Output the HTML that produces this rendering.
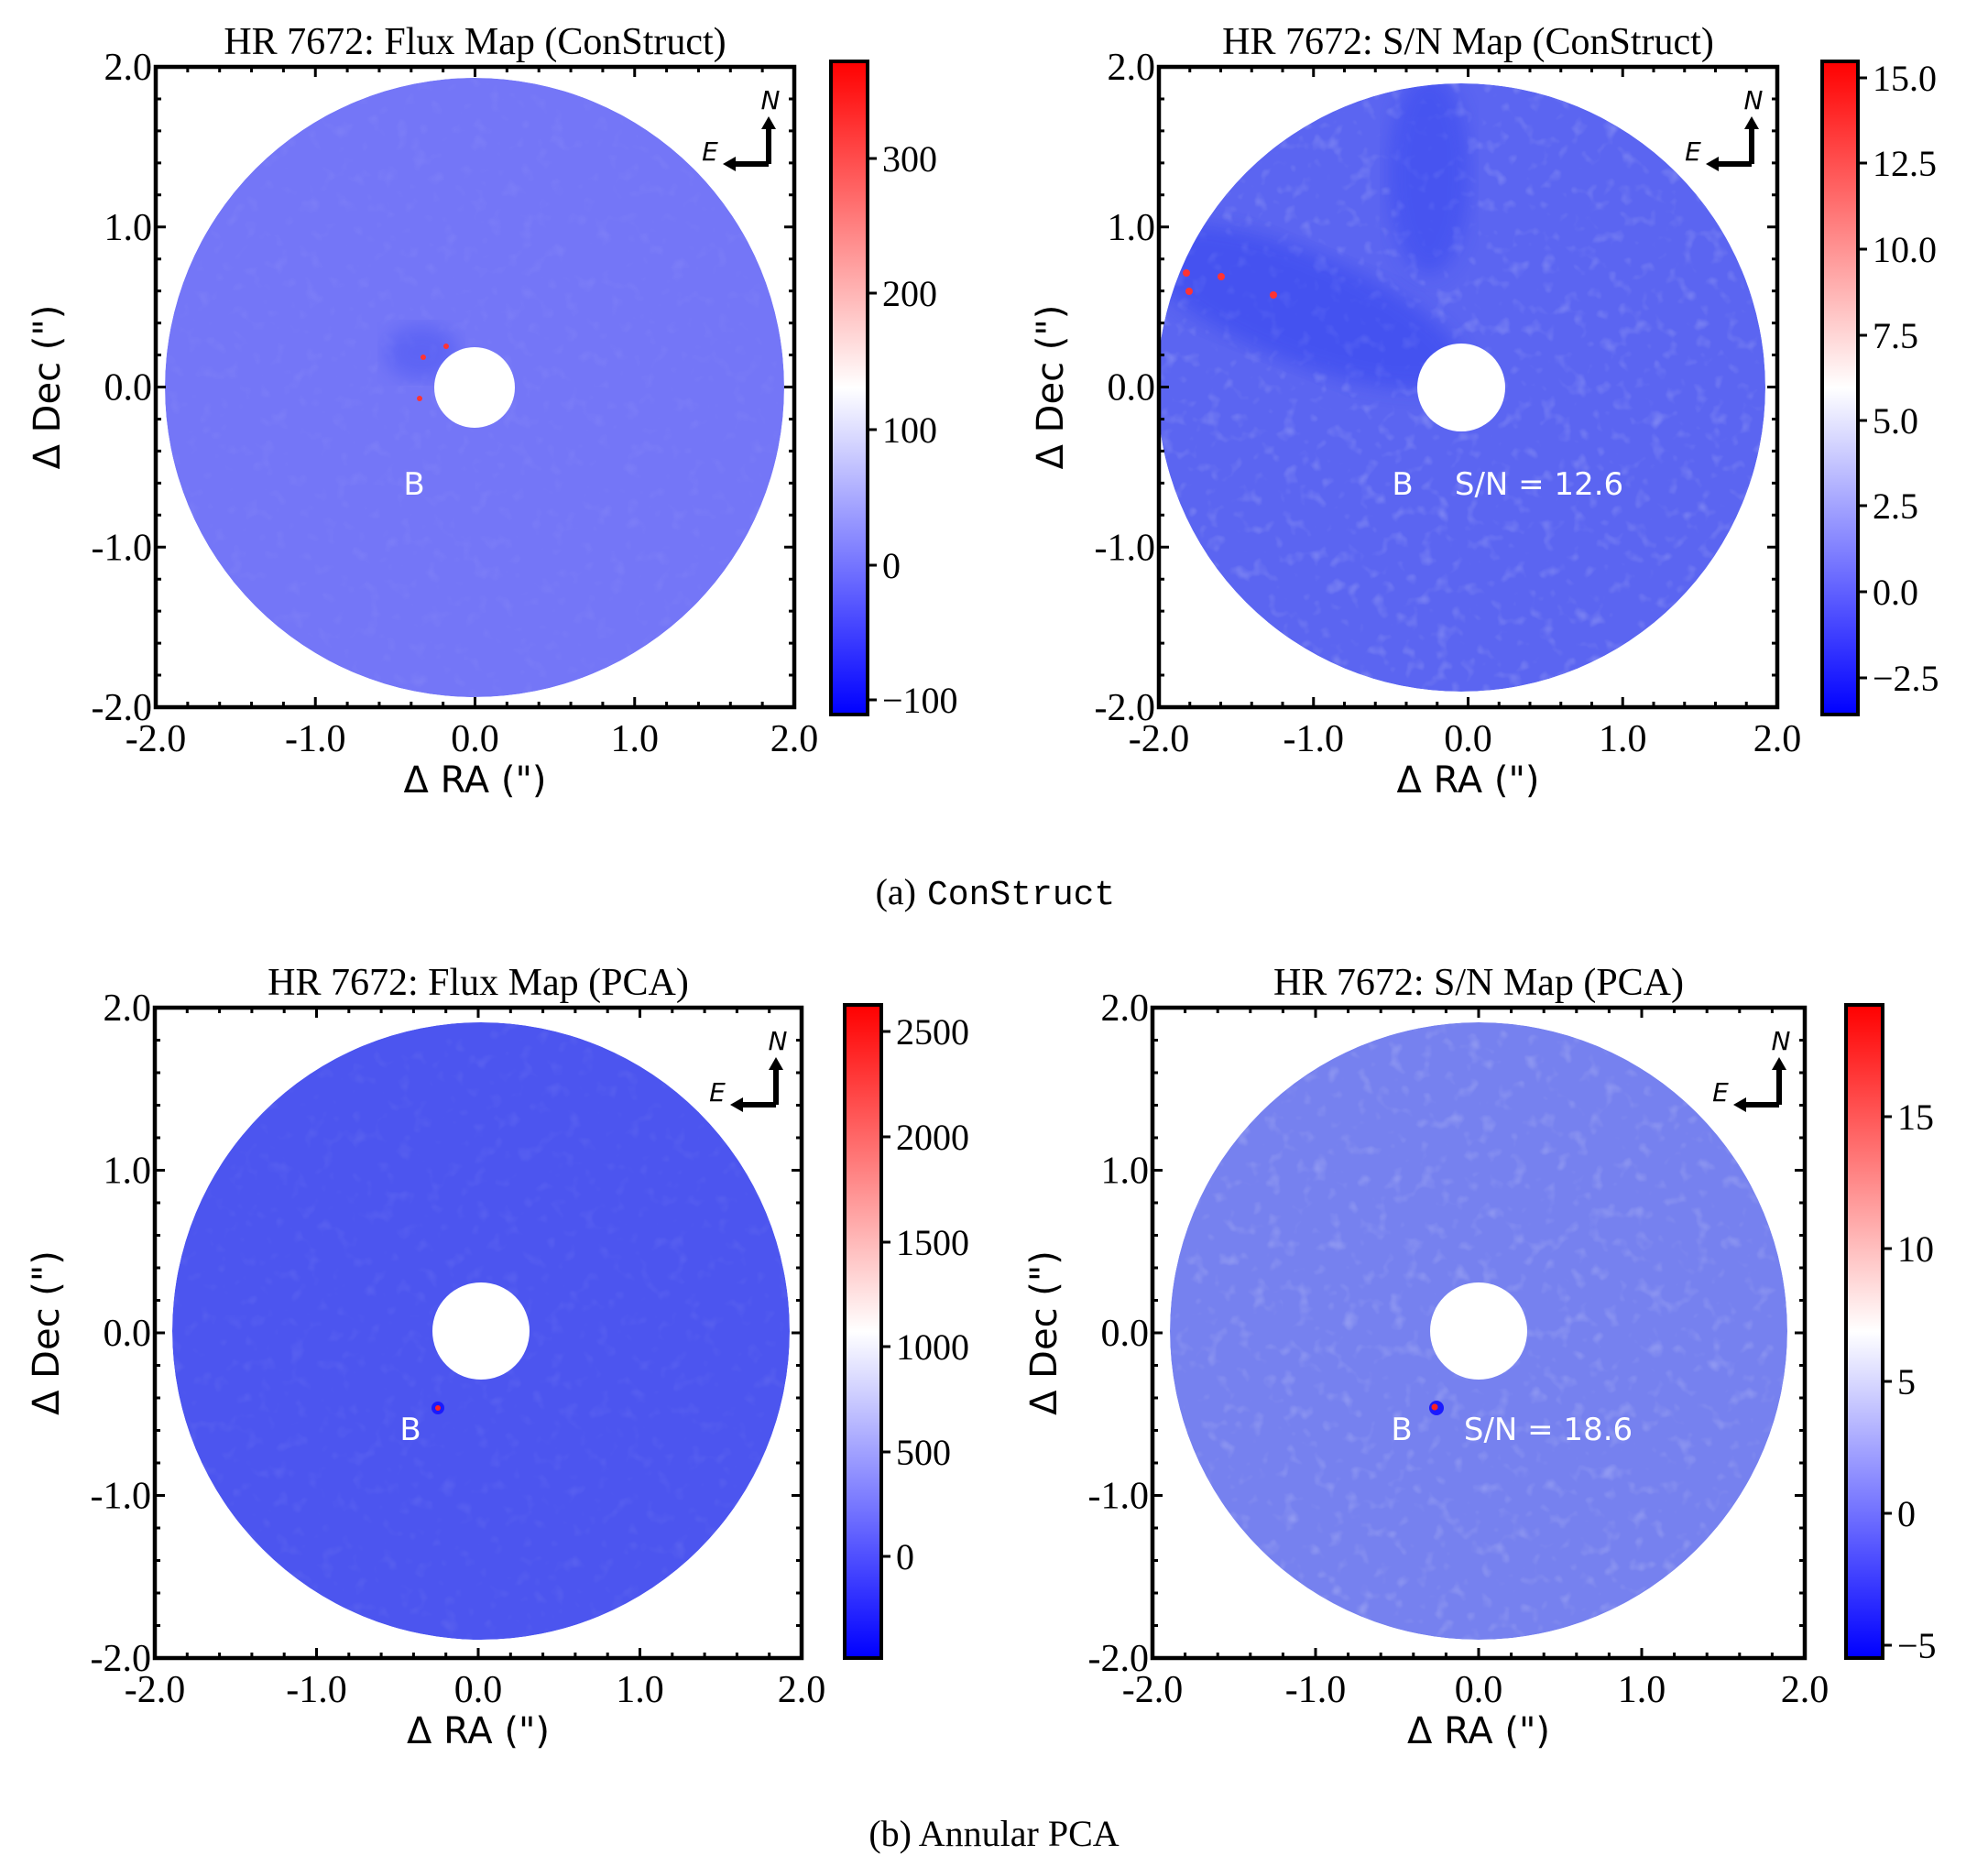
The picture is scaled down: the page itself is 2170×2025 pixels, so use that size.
<!DOCTYPE html>
<html><head><meta charset="utf-8"><style>
html,body{margin:0;padding:0;background:#fff;}
svg{display:block;}
</style></head><body>
<svg id="s" width="2170" height="2025" xmlns="http://www.w3.org/2000/svg">
<defs>
<linearGradient id="bwr" x1="0" y1="1" x2="0" y2="0">
<stop offset="0" stop-color="#0000ff"/><stop offset="0.5" stop-color="#ffffff"/><stop offset="1" stop-color="#ff0000"/>
</linearGradient>
<filter id="tex" x="0" y="0" width="100%" height="100%">
<feTurbulence type="fractalNoise" baseFrequency="0.06" numOctaves="2" seed="3"/>
<feColorMatrix type="matrix" values="0 0 0 0 1  0 0 0 0 1  0 0 0 0 1  0 0 0 1.6 -0.9"/>
</filter>
<filter id="blur8"><feGaussianBlur stdDeviation="10"/></filter>
</defs>
</svg>
<script>
const S=document.getElementById('s');
const NS='http://www.w3.org/2000/svg';
const DEFS=S.querySelector('defs');
function el(t,a,txt,parent){const e=document.createElementNS(NS,t);for(const k in a)e.setAttribute(k,a[k]);if(txt!==undefined&&txt!==null)e.textContent=txt;(parent||S).appendChild(e);return e;}
const P=[
 {ax:[170,73,867,772],cb:[907,67,947,780],title:"HR 7672: Flux Map (ConStruct)",disc:[518,423,338,44],col:"#7476f7",tex:0.10,
  cbt:[["300",173],["200",320],["100",469],["0",617],["\u2212100",764]],B:[452,540],SN:null},
 {ax:[1265,73,1940,772],cb:[1989,67,2028,780],title:"HR 7672: S/N Map (ConStruct)",disc:[1595,423,332,48],col:"#5b65f1",tex:0.35,
  cbt:[["15.0",85],["12.5",178],["10.0",272],["7.5",366],["5.0",459],["2.5",552],["0.0",646],["\u22122.5",740]],B:[1531,540],SN:[1680,540,"S/N = 12.6"]},
 {ax:[169,1100,875,1810],cb:[922,1097,962,1810],title:"HR 7672: Flux Map (PCA)",disc:[525,1453,337,53],col:"#4c55ef",tex:0.12,
  cbt:[["2500",1126],["2000",1241],["1500",1356],["1000",1470],["500",1585],["0",1699]],B:[448,1572],SN:null},
 {ax:[1258,1100,1970,1810],cb:[2015,1097,2055,1810],title:"HR 7672: S/N Map (PCA)",disc:[1614,1453,337,53],col:"#7681ef",tex:0.35,
  cbt:[["15",1219],["10",1363],["5",1508],["0",1652],["\u22125",1796]],B:[1530,1572],SN:[1690,1572,"S/N = 18.6"]}
];
const serif='"Liberation Serif","DejaVu Serif",serif', sans='"DejaVu Sans","Liberation Sans",sans-serif', osans='"DejaVu Sans","Liberation Sans",sans-serif';
P.forEach((p,i)=>{
 const [x0,y0,x1,y1]=p.ax; const w=x1-x0,h=y1-y0;
 const [cx,cy,r,hr]=p.disc;
 const cp=el('clipPath',{id:'c'+i},null,DEFS);el('circle',{cx,cy,r},null,cp);
 const g=el('g',{'clip-path':`url(#c${i})`});
 el('circle',{cx,cy,r,fill:p.col},null,g);
 el('rect',{x:cx-r,y:cy-r,width:2*r,height:2*r,filter:'url(#tex)',opacity:p.tex},null,g);
 if(i==1){
  el('ellipse',{cx:1420,cy:335,rx:190,ry:60,fill:'#2b3cf0',opacity:0.45,transform:'rotate(22 1420 335)',filter:'url(#blur8)'},null,g);
  el('ellipse',{cx:1560,cy:190,rx:45,ry:110,fill:'#2b3cf0',opacity:0.4,filter:'url(#blur8)'},null,g);
  [[1295,298],[1298,318],[1333,302],[1390,322]].forEach(q=>el('circle',{cx:q[0],cy:q[1],r:4,fill:'#f33'},null,g));
 }
 if(i==0){
  el('ellipse',{cx:460,cy:385,rx:40,ry:30,fill:'#3545f0',opacity:0.35,filter:'url(#blur8)'},null,g);
  [[462,390],[487,378],[458,435]].forEach(q=>el('circle',{cx:q[0],cy:q[1],r:3,fill:'#f33'},null,g));
 }
 if(i==2){el('circle',{cx:478,cy:1537,r:7,fill:'#1a1aff'},null,g);el('circle',{cx:478,cy:1537,r:3,fill:'#f22'},null,g);}
 if(i==3){el('circle',{cx:1568,cy:1537,r:8,fill:'#1a1aff'},null,g);el('circle',{cx:1566,cy:1536,r:3.5,fill:'#f22'},null,g);}
 el('circle',{cx,cy,r:hr,fill:'#fff'});
 el('text',{x:p.B[0],y:p.B[1],fill:'#fff','font-family':osans,'font-size':34,'text-anchor':'middle'},'B');
 if(p.SN) el('text',{x:p.SN[0],y:p.SN[1],fill:'#fff','font-family':osans,'font-size':34,'text-anchor':'middle'},p.SN[2]);
 const ax=x1-28, ay=y0+106;
 el('path',{d:`M${ax} ${ay} V${ay-42} M${ax} ${ay} H${ax-40}`,stroke:'#000','stroke-width':6,fill:'none'});
 el('path',{d:`M${ax-8} ${ay-38} L${ax} ${ay-52} L${ax+8} ${ay-38}Z`,fill:'#000'});
 el('path',{d:`M${ax-36} ${ay-8} L${ax-50} ${ay} L${ax-36} ${ay+8}Z`,fill:'#000'});
 el('text',{x:ax+2,y:ay-60,'font-family':osans,'font-style':'italic','font-size':28,'text-anchor':'middle'},'N');
 el('text',{x:ax-64,y:ay-4,'font-family':osans,'font-style':'italic','font-size':28,'text-anchor':'middle'},'E');
 el('rect',{x:x0,y:y0,width:w,height:h,fill:'none',stroke:'#000','stroke-width':4.5});
 for(let k=-10;k<=10;k++){
  const v=k/5, major=(k%5==0), L=major?11:6;
  const X=x0+(v+2)/4*w, Y=y1-(v+2)/4*h;
  el('path',{d:`M${X} ${y1} v${-L} M${X} ${y0} v${L} M${x0} ${Y} h${L} M${x1} ${Y} h${-L}`,stroke:'#000','stroke-width':3});
  if(major){
   const lab=(v<0?'-':'')+Math.abs(v).toFixed(1);
   el('text',{x:X,y:y1+48,'font-family':serif,'font-size':42,'text-anchor':'middle'},lab);
   el('text',{x:x0-4,y:Y+14,'font-family':serif,'font-size':42,'text-anchor':'end'},lab);
  }
 }
 el('text',{x:(x0+x1)/2,y:y0-14,'font-family':serif,'font-size':42,'text-anchor':'middle'},p.title);
 el('text',{x:(x0+x1)/2,y:y1+93,'font-family':sans,'font-size':40,'text-anchor':'middle'},'\u0394 RA (")');
 el('text',{x:0,y:0,'font-family':sans,'font-size':40,'text-anchor':'middle',transform:`translate(${x0-105} ${(y0+y1)/2}) rotate(-90)`},'\u0394 Dec (")');
 const [c0,d0,c1,d1]=p.cb;
 el('rect',{x:c0,y:d0,width:c1-c0,height:d1-d0,fill:'url(#bwr)',stroke:'#000','stroke-width':4});
 p.cbt.forEach(t=>{
  el('path',{d:`M${c1} ${t[1]} h10`,stroke:'#000','stroke-width':3});
  el('text',{x:c1+16,y:t[1]+14,'font-family':serif,'font-size':40},t[0]);
 });
});
el('text',{x:1000,y:987,'font-family':serif,'font-size':40,'text-anchor':'end'},'(a)');
el('text',{x:1012,y:987,'font-family':'"Liberation Mono",monospace','font-size':38},'ConStruct');
el('text',{x:1085,y:2015,'font-family':serif,'font-size':40,'text-anchor':'middle'},'(b) Annular PCA');
</script>
</body></html>
